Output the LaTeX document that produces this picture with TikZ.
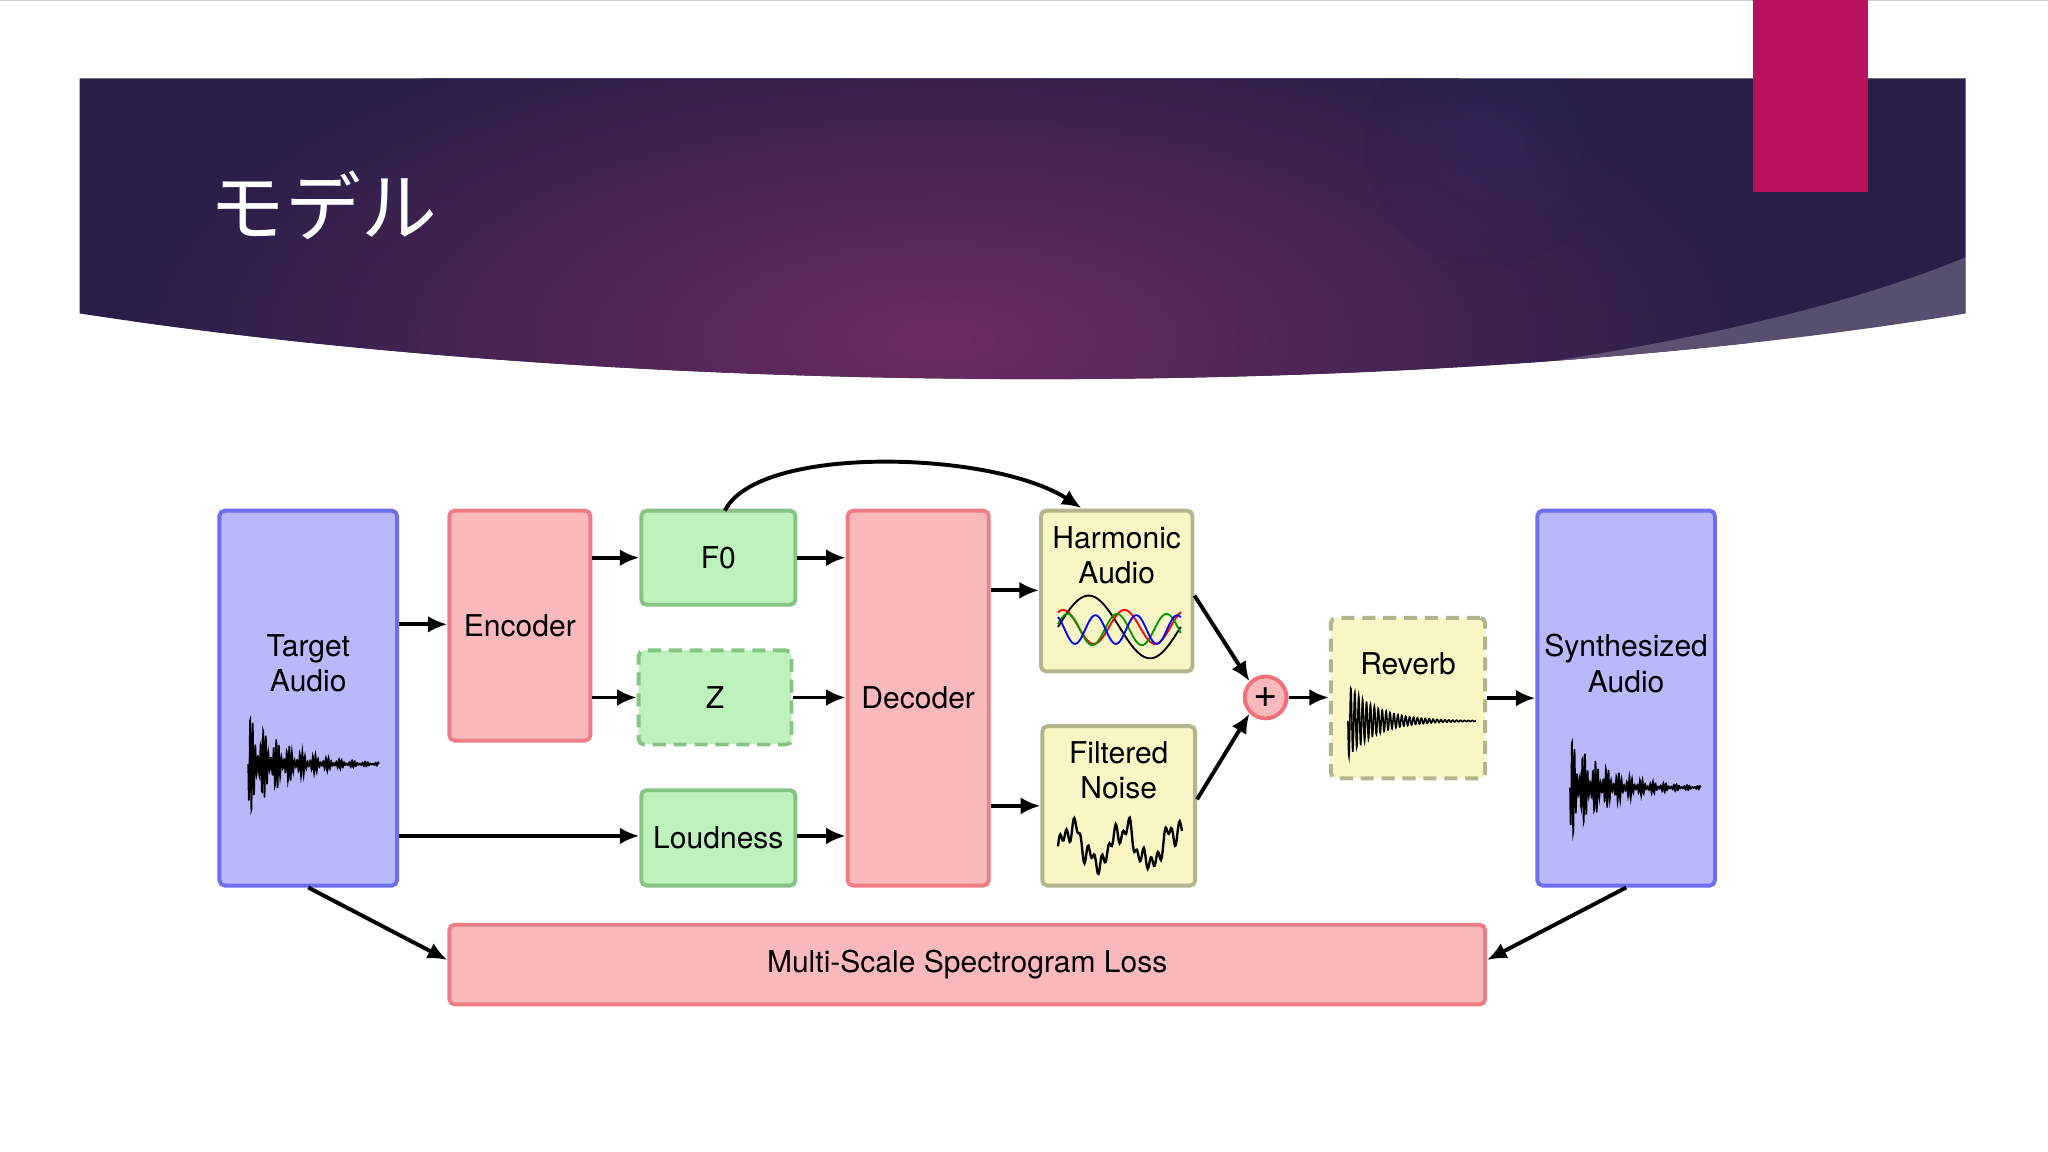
\documentclass[tikz,border=0pt]{standalone}
\usepackage{fontspec}
\setmainfont{TeX Gyre Heros}
\newfontfamily\cjk{Noto Sans CJK JP}
\usetikzlibrary{arrows.meta}
\definecolor{bluef}{HTML}{B8B8FA}\definecolor{bluee}{HTML}{6E6EF2}
\definecolor{redf}{HTML}{F9B9BC}\definecolor{rede}{HTML}{EE7E86}
\definecolor{grnf}{HTML}{BDF2BD}\definecolor{grne}{HTML}{86C486}
\definecolor{yelf}{HTML}{F8F6C4}\definecolor{yele}{HTML}{B4B48E}
\definecolor{darkp}{HTML}{2A1E48}\definecolor{midp}{HTML}{6C2B62}
\definecolor{mag}{HTML}{B8125C}
\tikzset{
 box/.style={draw, line width=1.5pt, rounded corners=2pt, inner sep=0pt},
 bl/.style={box, fill=bluef, draw=bluee},
 rd/.style={box, fill=redf, draw=rede},
 gr/.style={box, fill=grnf, draw=grne},
 ye/.style={box, fill=yelf, draw=yele},
 dsh/.style={dash pattern=on 5pt off 3pt},
 lab/.style={font=\fontsize{11.5}{13.5}\selectfont, align=center, inner sep=0pt},
 ar/.style={line width=1.5pt, -{Latex[length=7.5pt,width=6.5pt]}},
 wv/.style={line width=0.6pt},
}
\begin{document}
\begin{tikzpicture}[x=0.5pt,y=-0.5pt]
\useasboundingbox (0,0) rectangle (1568,882);
\fill[white] (0,0) rectangle (1568,882);
\draw[gray!40, line width=0.5pt] (0,0.5) -- (1568,0.5);
% banner
\begin{scope}
\clip (61,60) -- (1505,60) -- (1505,240) .. controls (1100,307) and (500,307) .. (61,240) -- cycle;
\fill[darkp] (0,0) rectangle (1568,320);
\shade[inner color=midp, outer color=darkp] (720,260) ellipse (620 and 260);
\shade[inner color=blue!40!darkp!80!white, outer color=darkp, opacity=0.12] (1140,110) circle (95);
\fill[white, opacity=0.22] (1130,285) .. controls (1300,262) and (1420,232) .. (1505,197) -- (1505,300) -- (1130,300) -- cycle;
\end{scope}
\fill[mag] (1342,0) rectangle (1430,147);
\node[anchor=west, text=white, font=\cjk\fontsize{29}{32}\selectfont, inner sep=0pt] (title) at (160,157) {モデル};
% boxes
\node[bl, minimum width=68pt, minimum height=143.5pt] (ta) at (236,534.5) {};
\node[rd, minimum width=54pt, minimum height=88pt] (enc) at (398,479) {};
\node[gr, minimum width=59pt, minimum height=36pt] (f0) at (550,427) {};
\node[gr, dsh, minimum width=58.5pt, minimum height=36pt] (z) at (547.5,534) {};
\node[gr, minimum width=59pt, minimum height=36.5pt] (ld) at (550,641.5) {};
\node[rd, minimum width=54pt, minimum height=143.5pt] (dec) at (703,534.5) {};
\node[ye, minimum width=58pt, minimum height=61.5pt] (ha) at (855,452.5) {};
\node[ye, minimum width=58.5pt, minimum height=61pt] (fn) at (856.5,617) {};
\node[circle, draw=rede!90!red, fill=redf, line width=1.5pt, minimum size=16pt, inner sep=0pt, font=\fontsize{16}{16}\selectfont] (plus) at (969,534) {+};
\node[ye, dsh, minimum width=59pt, minimum height=61.5pt] (rv) at (1078,534.5) {};
\node[bl, minimum width=68pt, minimum height=143.5pt] (sy) at (1245,534.5) {};
\node[rd, minimum width=396.5pt, minimum height=30.5pt, lab] (loss) at (740.5,738.5) {Multi-Scale Spectrogram Loss};
% labels
\node[lab] (tat) at (236,508) {Target\\Audio};
\node[lab] (enct) at (398,479) {Encoder};
\node[lab] (f0t) at (550,427) {F0};
\node[lab] (zt) at (547.5,534) {Z};
\node[lab] (ldt) at (550,641.5) {Loudness};
\node[lab] (dect) at (703,534.5) {Decoder};
\node[lab] (hat) at (855,425) {Harmonic\\Audio};
\node[lab] (fnt) at (856.5,590) {Filtered\\Noise};
\node[lab] (rvt) at (1078,508) {Reverb};
\node[lab] (syt) at (1245,508) {Synthesized\\Audio};
% waveforms
\draw[wv] plot[domain=0:100,samples=500] ({190+\x},{585+40*exp(-\x/30)*sin(mod(\x,2)*180)*(0.6+0.4*sin(\x*37))});
\draw[wv] plot[domain=0:100,samples=500] ({1202+\x},{603+40*exp(-\x/30)*sin(mod(\x,2)*180)*(0.6+0.4*sin(\x*41))});
\draw[wv] plot[domain=0:98,samples=500] ({1032+\x},{552+28*exp(-\x/22)*sin(mod(\x,3)*120)});
\draw[wv, line width=0.9pt] plot[domain=0:95,samples=160] ({810+\x},{648-13*sin(\x*9)-8*sin(\x*31+20)*sin(\x*5)-5*sin(\x*67)});
\begin{scope}[line width=0.7pt]
\draw plot[domain=0:94,samples=80] ({810+\x},{480-24*sin(\x*3.83)});
\draw[red] plot[domain=0:94,samples=80] ({810+\x},{480-13*sin(\x*7.66+60)});
\draw[green!60!black] plot[domain=0:94,samples=80] ({810+\x},{482-12*sin(\x*9.5+20)});
\draw[blue] plot[domain=0:94,samples=80] ({810+\x},{482-11*sin(\x*11.5+120)});
\end{scope}
% arrows
\draw[ar] (ta.east|-0,478) -- (enc.west|-0,478);
\draw[ar] (enc.east|-0,427) -- (f0.west);
\draw[ar] (enc.east|-0,534) -- (z.west);
\draw[ar] (ta.east|-0,640) -- (ld.west|-0,640);
\draw[ar] (f0.east) -- (dec.west|-f0.east);
\draw[ar] (z.east) -- (dec.west|-z.east);
\draw[ar] (ld.east|-0,640) -- (dec.west|-0,640);
\draw[ar] (dec.east|-0,452) -- (ha.west|-0,452);
\draw[ar] (dec.east|-0,617) -- (fn.west|-0,617);
\draw[ar] (555,391) .. controls (580,340) and (760,345) .. (828,389);
\draw[ar] (ha.east|-0,456) -- (plus.north west);
\draw[ar] (fn.east|-0,612) -- (plus.south west);
\draw[ar] (plus.east) -- (rv.west|-plus.east);
\draw[ar] (rv.east) -- (sy.west|-rv.east);
\draw[ar] (ta.south) -- (loss.west|-0,735);
\draw[ar] (sy.south) -- (loss.east|-0,735);
\end{tikzpicture}
\end{document}
